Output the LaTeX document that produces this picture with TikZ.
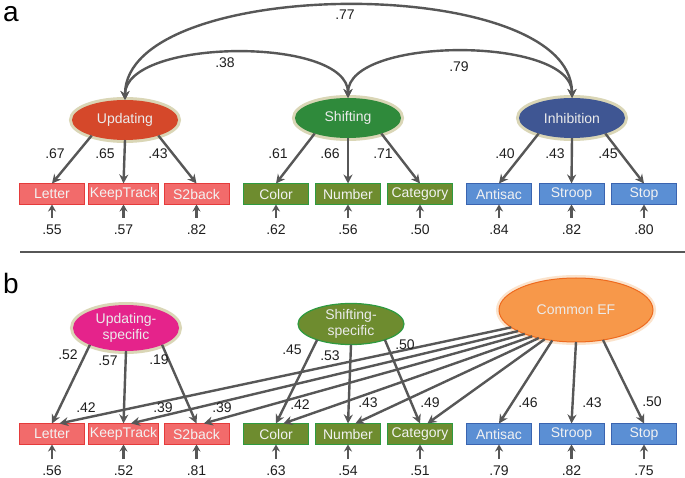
\documentclass[tikz,border=0pt]{standalone}
\usepackage{fontspec}
\setmainfont{Liberation Sans}
\usetikzlibrary{arrows.meta,shapes.geometric,positioning}

\definecolor{updred}{HTML}{D5482A}
\definecolor{shfgreen}{HTML}{2F8A3B}
\definecolor{inhblue}{HTML}{3F5693}
\definecolor{halobeige}{HTML}{DAD6B6}
\definecolor{redfill}{HTML}{F26B6B}
\definecolor{redline}{HTML}{E53B3B}
\definecolor{olvfill}{HTML}{6E8C2F}
\definecolor{olvline}{HTML}{2E9A40}
\definecolor{bluefill}{HTML}{5B8FD4}
\definecolor{blueline}{HTML}{3A64B0}
\definecolor{usmag}{HTML}{E5238B}
\definecolor{ceforange}{HTML}{F7984A}
\definecolor{cefline}{HTML}{EE6A1E}
\definecolor{cefhalo}{HTML}{FBE3CC}
\definecolor{arrowgray}{HTML}{575757}

\begin{document}
\begin{tikzpicture}[
    x=1pt, y=-1pt,
    font=\fontsize{14}{16}\selectfont,
    lat/.style={ellipse, outer sep=0pt, inner sep=0pt, text=white!92!black,
      minimum width=106pt, minimum height=40pt},
    halo/.style={preaction={draw=#1, line width=6pt}},
    obs/.style={rectangle, line width=1pt, minimum width=65pt, minimum height=21pt,
      inner xsep=1.5pt, inner ysep=0pt, outer sep=0pt, text=white!95!black},
    redbox/.style={obs, fill=redfill, draw=redline},
    grnbox/.style={obs, fill=olvfill, draw=olvline},
    blubox/.style={obs, fill=bluefill, draw=blueline},
    load/.style={line width=2.4pt, draw=arrowgray, -{Stealth[length=9pt,width=9pt]}},
    cov/.style={line width=2.4pt, draw=arrowgray,
      {Stealth[length=9pt,width=9pt]}-{Stealth[length=9pt,width=9pt]}},
    res/.style={line width=2.4pt, draw=arrowgray, shorten <=5pt,
      -{Stealth[length=7pt,width=8pt]}},
    num/.style={text=black!88},
    resnum/.style={num, inner ysep=2pt},
  ]
  \path[use as bounding box, fill=white] (0,0) rectangle (685,478);

  % panel a
  \node[font=\fontsize{28}{28}\selectfont] (pa) at (11,14) {a};
  \node[lat, fill=updred, halo=halobeige] (upd) at (125,120) {Updating};
  \node[lat, fill=shfgreen, halo=halobeige] (shf) at (348,118) {Shifting};
  \node[lat, fill=inhblue, halo=halobeige] (inh) at (572,118) {Inhibition};

  \node[redbox] (letter) at (52,194) {Letter};
  \node[redbox] (keeptrack) at (123.5,194) {KeepTrack};
  \node[redbox] (s2back) at (196.5,194) {S2back};
  \node[grnbox] (color) at (276,194) {Color};
  \node[grnbox] (number) at (348,194) {Number};
  \node[grnbox] (category) at (420,194) {Category};
  \node[blubox] (antisac) at (499,194) {Antisac};
  \node[blubox] (stroop) at (571.5,194) {Stroop};
  \node[blubox] (stop) at (644,194) {Stop};

  \draw[cov] (upd.north) .. controls +(0,-125) and +(0,-125) .. (inh.north);
  \draw[cov] (upd.north) .. controls +(0,-62) and +(0,-62) .. (shf.north);
  \draw[cov] (shf.north) .. controls +(0,-62) and +(0,-62) .. (inh.north);
  \node[num] (c77) at (345,15) {.77};
  \node[num] (c38) at (225,63) {.38};
  \node[num] (c79) at (459,67) {.79};

  \draw[load] (upd.205) -- (letter.north);
  \draw[load] (upd.south) -- (keeptrack.north);
  \draw[load] (upd.335) -- (s2back.north);
  \draw[load] (shf.205) -- (color.north);
  \draw[load] (shf.south) -- (number.north);
  \draw[load] (shf.335) -- (category.north);
  \draw[load] (inh.205) -- (antisac.north);
  \draw[load] (inh.south) -- (stroop.north);
  \draw[load] (inh.335) -- (stop.north);
  \node[num] (l67) at (55,154) {.67};
  \node[num] (l65) at (105,154) {.65};
  \node[num] (l43u) at (158,154) {.43};
  \node[num] (l61) at (278,154) {.61};
  \node[num] (l66) at (330,154) {.66};
  \node[num] (l71) at (383,154) {.71};
  \node[num] (l40) at (505,154) {.40};
  \node[num] (l43i) at (555,154) {.43};
  \node[num] (l45) at (608,154) {.45};

  \foreach \b/\v in {letter/.55, keeptrack/.57, s2back/.82, color/.62, number/.56,
      category/.50, antisac/.84, stroop/.82, stop/.80}{
    \node[resnum, below=18.5pt of \b] (r\b) {\v};
    \draw[res] (r\b) -- (\b);
  }

  \draw[line width=2.5pt, draw=arrowgray] (20,252) -- (685,252);

  % panel b
  \node[font=\fontsize{28}{28}\selectfont] (pb) at (11,283) {b};
  \node[lat, fill=usmag, halo=halobeige, minimum height=46pt, align=center]
    (us) at (126,328) {Updating-\\specific};
  \node[lat, fill=olvfill, draw=olvline, line width=1.2pt, align=center]
    (ss) at (351,324) {Shifting-\\specific};
  \node[lat, fill=ceforange, draw=cefline, line width=1pt, halo=cefhalo,
    minimum width=154pt, minimum height=64pt] (cef) at (576,310) {Common EF};

  \node[redbox] (letterb) at (52,434) {Letter};
  \node[redbox] (keeptrackb) at (123.5,434) {KeepTrack};
  \node[redbox] (s2backb) at (196.5,434) {S2back};
  \node[grnbox] (colorb) at (276,434) {Color};
  \node[grnbox] (numberb) at (348,434) {Number};
  \node[grnbox] (categoryb) at (420,434) {Category};
  \node[blubox] (antisacb) at (499,434) {Antisac};
  \node[blubox] (stroopb) at (571.5,434) {Stroop};
  \node[blubox] (stopb) at (644,434) {Stop};

  \draw[load] (us.205) -- (letterb.north);
  \draw[load] (us.south) -- (keeptrackb.north);
  \draw[load] (us.335) -- (s2backb.north);
  \draw[load] (ss.205) -- (colorb.north);
  \draw[load] (ss.south) -- (numberb.north);
  \draw[load] (ss.335) -- (categoryb.north);

  \draw[load] (cef.195) -- (letterb.55);
  \draw[load] (cef.200) -- (keeptrackb.55);
  \draw[load] (cef.205) -- (s2backb.55);
  \draw[load] (cef.211) -- (colorb.55);
  \draw[load] (cef.217) -- (numberb.55);
  \draw[load] (cef.223) -- (categoryb.55);
  \draw[load] (cef.232) -- (antisacb.north);
  \draw[load] (cef.south) -- (stroopb.north);
  \draw[load] (cef.312) -- (stopb.north);

  \node[num] (m52) at (68,355) {.52};
  \node[num] (m57) at (108,361) {.57};
  \node[num] (m19) at (159,360) {.19};
  \node[num] (m45) at (292,350) {.45};
  \node[num] (m53) at (330,356) {.53};
  \node[num] (m50s) at (405,345) {.50};
  \node[num] (g42l) at (86,408) {.42};
  \node[num] (g39k) at (163,408) {.39};
  \node[num] (g39s) at (222,408) {.39};
  \node[num] (g42c) at (300,405) {.42};
  \node[num] (g43n) at (368,403) {.43};
  \node[num] (g49) at (430,403) {.49};
  \node[num] (g46) at (528,403) {.46};
  \node[num] (g43s) at (592,403) {.43};
  \node[num] (g50) at (652,402) {.50};

  \foreach \b/\v in {letterb/.56, keeptrackb/.52, s2backb/.81, colorb/.63, numberb/.54,
      categoryb/.51, antisacb/.79, stroopb/.82, stopb/.75}{
    \node[resnum, below=19.5pt of \b] (r\b) {\v};
    \draw[res] (r\b) -- (\b);
  }
\end{tikzpicture}
\end{document}
